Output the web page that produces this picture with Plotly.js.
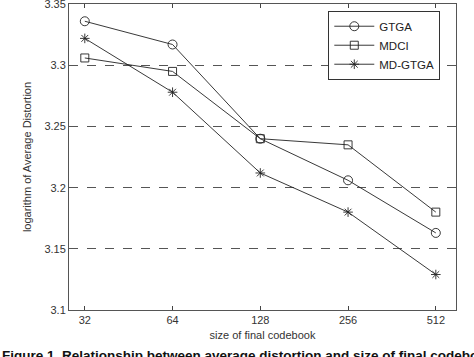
<!DOCTYPE html>
<html>
<head>
<meta charset="utf-8">
<script src="https://cdn.plot.ly/plotly-3.0.1.min.js"></script>
<style>
  html, body { margin: 0; padding: 0; background: #fff; }
  #chart { width: 474px; height: 357px; }
</style>
</head>
<body>
<div id="chart"></div>
<script>
// Codebook sizes (x categories)
const codebookSizes = ['32', '64', '128', '256', '512'];

// Logarithm of average distortion for each method
const gtga   = [3.336, 3.317, 3.240, 3.206, 3.163];
const mdci   = [3.306, 3.295, 3.240, 3.235, 3.180];
const mdGtga = [3.322, 3.278, 3.212, 3.180, 3.129];

const seriesNames = ['GTGA', 'MDCI', 'MD-GTGA'];
const yTicks = [3.1, 3.15, 3.2, 3.25, 3.3, 3.35];

const xIdx = codebookSizes.map((_, i) => i);
const font = 'Liberation Sans, Arial, sans-serif';

function series(name, y, symbol, size) {
  return {
    x: xIdx, y: y, name: name, type: 'scatter', mode: 'lines+markers',
    line: { color: '#222', width: 0.9 },
    marker: { symbol: symbol, size: size, color: '#222',
              line: { color: '#222', width: 0.9 } }
  };
}

const data = [
  series(seriesNames[0], gtga, 'circle-open', 9),
  series(seriesNames[1], mdci, 'square-open', 8),
  series(seriesNames[2], mdGtga, 'asterisk-open', 8)
];

const layout = {
  width: 474, height: 357,
  margin: { l: 69, r: 18, t: 4, b: 47 },
  paper_bgcolor: '#fff', plot_bgcolor: '#fff',
  font: { family: font, size: 11, color: '#333' },
  showlegend: true,
  legend: {
    x: 0.67, y: 0.978, xanchor: 'left', yanchor: 'top',
    bgcolor: '#fff', bordercolor: '#333', borderwidth: 1,
    font: { family: font, size: 11.5, color: '#222' },
    itemwidth: 40, tracegroupgap: 0
  },
  xaxis: {
    range: [-0.18, 4.23],
    tickvals: xIdx, ticktext: codebookSizes,
    ticks: 'inside', ticklen: 4, tickcolor: '#444',
    showline: true, linecolor: '#555', linewidth: 1, mirror: 'ticks',
    showgrid: false, zeroline: false,
    tickfont: { family: font, size: 11, color: '#333' },
    title: { text: 'size of final codebook', standoff: 6,
             font: { family: font, size: 11, color: '#333' } }
  },
  yaxis: {
    range: [3.1, 3.3501],
    tickvals: yTicks, ticktext: yTicks.map(String),
    ticklabeloverflow: 'allow',
    ticks: '', showline: true, linecolor: '#555', linewidth: 1, mirror: true,
    showgrid: true, gridcolor: '#555', griddash: 'dash', gridwidth: 1,
    zeroline: false,
    tickfont: { family: font, size: 11, color: '#333' },
    title: { text: 'logarithm of Average Distortion', standoff: 10,
             font: { family: font, size: 11, color: '#333' } }
  },
  annotations: [{
    xref: 'paper', yref: 'paper', x: -0.178, y: -0.118,
    xanchor: 'left', yanchor: 'top', showarrow: false,
    text: '<b>Figure 1. Relationship between average distortion and size of final codebook</b>',
    font: { family: font, size: 13.5, color: '#111' }
  }]
};

Plotly.newPlot('chart', data, layout, { displayModeBar: false, staticPlot: true });
</script>
</body>
</html>
